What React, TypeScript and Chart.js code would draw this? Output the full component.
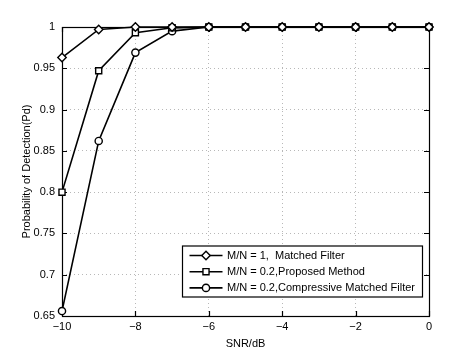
import React, { useEffect, useRef } from 'react';
import { Chart, registerables } from 'chart.js';
import { drawPoint } from 'chart.js/helpers';

Chart.register(...registerables);

const snr = [-10, -9, -8, -7, -6, -5, -4, -3, -2, -1, 0];
const matchedFilter = [0.963, 0.997, 1, 1, 1, 1, 1, 1, 1, 1, 1];
const proposedMethod = [0.8, 0.947, 0.993, 0.999, 1, 1, 1, 1, 1, 1, 1];
const compressiveMF = [0.656, 0.862, 0.969, 0.995, 1, 1, 1, 1, 1, 1, 1];
const seriesLabels = [
  'M/N = 1,  Matched Filter',
  'M/N = 0.2,Proposed Method',
  'M/N = 0.2,Compressive Matched Filter',
];
const pointStyles = ['rectRot', 'rect', 'circle'];
const pointSizes = [4.2, 4.3, 3.6];
const xTicks = [-10, -8, -6, -4, -2, 0];
const yTicks = [0.65, 0.7, 0.75, 0.8, 0.85, 0.9, 0.95, 1];
const xTitle = 'SNR/dB';
const yTitle = 'Probability of Detection(Pd)';

const FONT = "'Liberation Sans', Arial, Helvetica, sans-serif";

const framePlugin = {
  id: 'frame',
  beforeDatasetsDraw(chart: any) {
    const { ctx, chartArea: a, scales } = chart;
    ctx.save();
    ctx.strokeStyle = '#000';
    ctx.lineWidth = 1.2;
    ctx.strokeRect(a.left + 0.5, a.top + 0.5, a.right - a.left, a.bottom - a.top);
    ctx.beginPath();
    const L = 5;
    xTicks.forEach((v) => {
      const px = Math.round(scales.x.getPixelForValue(v)) + 0.5;
      ctx.moveTo(px, a.bottom);
      ctx.lineTo(px, a.bottom - L);
      ctx.moveTo(px, a.top);
      ctx.lineTo(px, a.top + L);
    });
    yTicks.forEach((v) => {
      const py = Math.round(scales.y.getPixelForValue(v)) + 0.5;
      ctx.moveTo(a.left, py);
      ctx.lineTo(a.left + L, py);
      ctx.moveTo(a.right, py);
      ctx.lineTo(a.right - L, py);
    });
    ctx.stroke();
    ctx.restore();
  },
};

const legendPlugin = {
  id: 'boxLegend',
  afterDraw(chart: any) {
    const { ctx, chartArea: a } = chart;
    const right = a.right - 6.5;
    const bottom = a.bottom - 19;
    const w = 240;
    const h = 51;
    const left = right - w;
    const top = bottom - h;
    ctx.save();
    ctx.fillStyle = '#fff';
    ctx.fillRect(left, top, w, h);
    ctx.strokeStyle = '#000';
    ctx.lineWidth = 1.2;
    ctx.strokeRect(left, top, w, h);
    ctx.font = `11px ${FONT}`;
    ctx.textBaseline = 'middle';
    chart.data.datasets.forEach((ds: any, i: number) => {
      const y = top + 9.5 + i * 16.2;
      ctx.strokeStyle = '#000';
      ctx.lineWidth = 1.6;
      ctx.beginPath();
      ctx.moveTo(left + 7, y);
      ctx.lineTo(left + 40, y);
      ctx.stroke();
      ctx.fillStyle = '#fff';
      ctx.lineWidth = 1.4;
      drawPoint(ctx, { pointStyle: ds.pointStyle, rotation: 0, radius: ds.pointRadius, borderWidth: 1.4 } as any, left + 23.5, y);
      ctx.fillStyle = '#000';
      ctx.fillText(ds.label, left + 44.5, y + 0.5);
    });
    ctx.restore();
  },
};

export default function App() {
  const ref = useRef<HTMLCanvasElement>(null);
  useEffect(() => {
    document.body.style.margin = '0';
    const series = [matchedFilter, proposedMethod, compressiveMF];
    const chart = new Chart(ref.current!, {
      type: 'line',
      data: {
        datasets: series.map((s, i) => ({
          label: seriesLabels[i],
          data: snr.map((x, j) => ({ x, y: s[j] })),
          borderColor: '#000',
          borderWidth: 1.6,
          backgroundColor: '#fff',
          pointStyle: pointStyles[i] as any,
          pointRadius: pointSizes[i],
          pointBackgroundColor: '#fff',
          pointBorderColor: '#000',
          pointBorderWidth: 1.4,
          tension: 0,
          clip: false as any,
        })),
      },
      options: {
        animation: false,
        responsive: false,
        devicePixelRatio: 1,
        layout: { padding: { left: 0, right: 45, top: 27, bottom: 0 } },
        plugins: { legend: { display: false }, tooltip: { enabled: false } },
        scales: {
          x: {
            type: 'linear',
            min: -10,
            max: 0,
            afterFit: (s: any) => { s.height = 40; },
            afterBuildTicks: (s: any) => { s.ticks = xTicks.map((v) => ({ value: v })); },
            ticks: {
              color: '#000',
              font: { family: FONT, size: 11 },
              padding: 4,
              maxRotation: 0,
              callback: (v: any) => (Number(v) < 0 ? '\u2212' + Math.abs(Number(v)) : String(v)),
            },
            grid: { color: '#b8b8b8', lineWidth: 1, drawTicks: false },
            border: { display: false, dash: [1, 3] },
            title: { display: true, text: xTitle, color: '#000', font: { family: FONT, size: 11 }, padding: { top: 5, bottom: 5 } },
          },
          y: {
            type: 'linear',
            min: 0.65,
            max: 1,
            afterFit: (s: any) => { s.width = 62; },
            afterBuildTicks: (s: any) => { s.ticks = yTicks.map((v) => ({ value: v })); },
            ticks: {
              color: '#000',
              font: { family: FONT, size: 11 },
              padding: 7,
              callback: (v: any) => String(Number(Number(v).toFixed(2))),
            },
            grid: { color: '#b8b8b8', lineWidth: 1, drawTicks: false },
            border: { display: false, dash: [1, 3] },
            title: { display: true, text: yTitle, color: '#000', font: { family: FONT, size: 11 }, padding: { top: 20, bottom: 20 } },
          },
        },
      },
      plugins: [framePlugin, legendPlugin],
    });
    return () => chart.destroy();
  }, []);
  return (
    <div style={{ width: 474, height: 356, background: '#fff' }}>
      <canvas ref={ref} width={474} height={356} />
    </div>
  );
}
